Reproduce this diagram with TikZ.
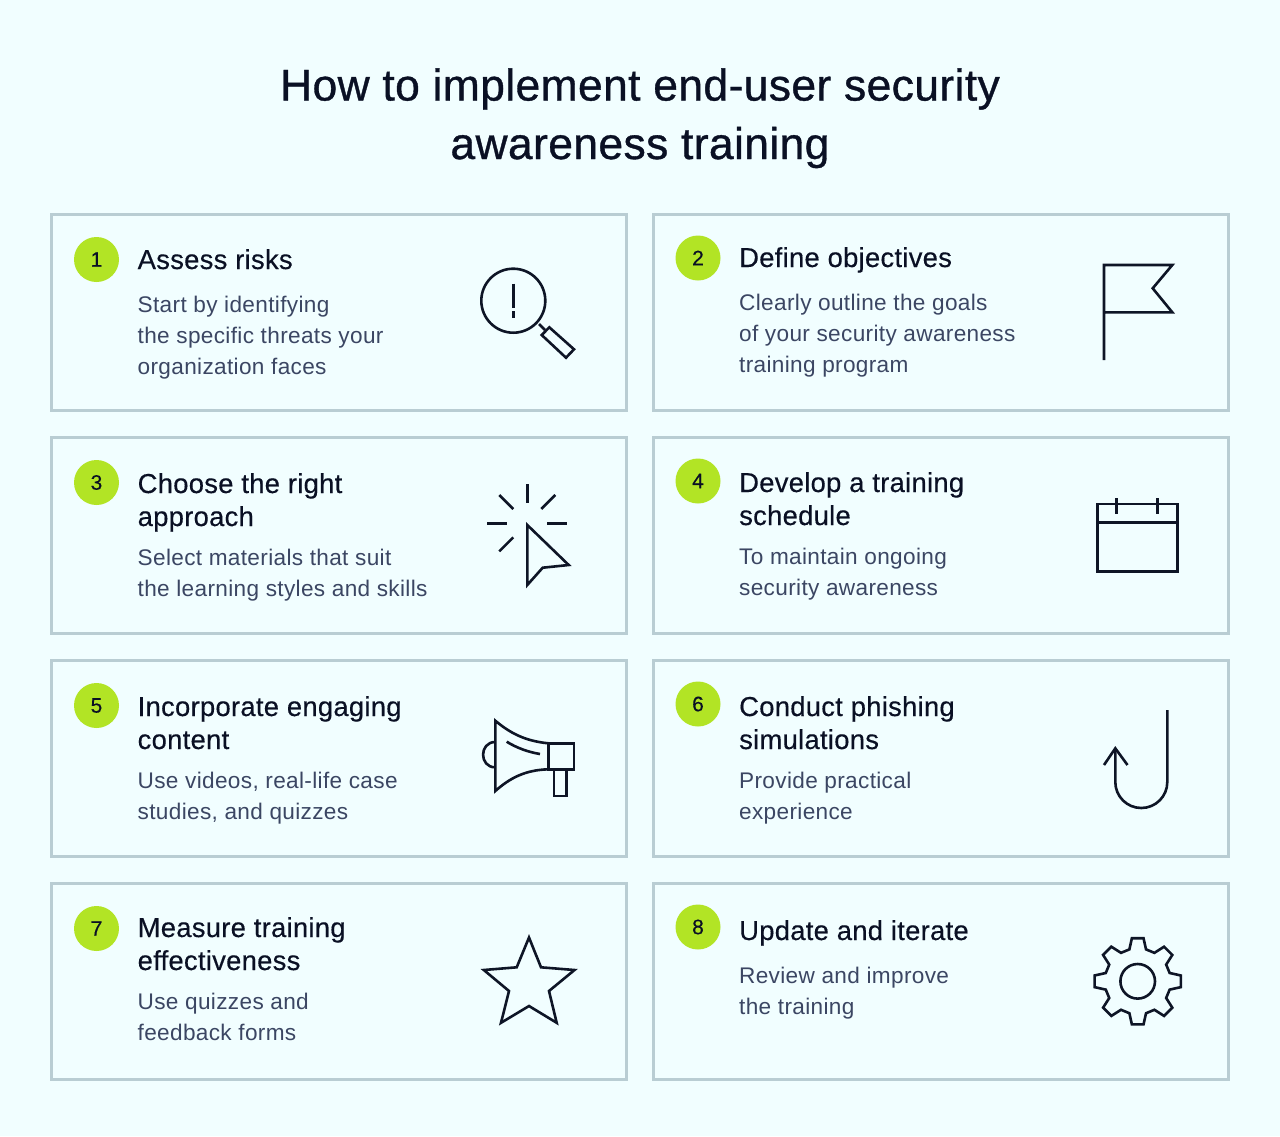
\documentclass[tikz,border=0pt]{standalone}
\usepackage{fontspec}
\setmainfont{Liberation Sans}
\newfontfamily\medfont[FakeBold=0.35,LetterSpace=1.0]{Liberation Sans}
\newfontfamily\headfont[FakeBold=0.8,LetterSpace=0.9]{Liberation Sans}
\newfontfamily\bodyfont[LetterSpace=1.5]{Liberation Sans}
\definecolor{bgc}{HTML}{F1FEFF}
\definecolor{edgec}{HTML}{B9CDD3}
\definecolor{limec}{HTML}{B2E425}
\definecolor{inkc}{HTML}{0A1024}
\definecolor{iconc}{HTML}{0E1526}
\definecolor{bodyc}{HTML}{3B4663}
\tikzset{
  cardbox/.style={draw=edgec,line width=2.7pt,fill=bgc},
  badge/.style={circle,fill=limec,minimum size=45pt,inner sep=0pt,text=inkc,font=\medfont\fontsize{21}{21}\selectfont},
  maintitle/.style={anchor=base,text=inkc,font=\headfont\fontsize{44.4}{44.4}\selectfont,inner sep=0pt},
  cardtitle/.style={anchor=base west,text=inkc,font=\medfont\fontsize{27.4}{27.4}\selectfont,inner sep=0pt},
  cardbody/.style={anchor=base west,text=bodyc,font=\bodyfont\fontsize{22.6}{22.6}\selectfont,inner sep=0pt},
  icon/.style={draw=iconc,line width=2.6pt,line join=miter}
}
\begin{document}
\begin{tikzpicture}[x=1pt,y=-1pt]
\useasboundingbox[fill=bgc] (0,0) rectangle (1280,1136);
\node[maintitle] (t1) at (640,100.5) {How to implement end-user security};
\node[maintitle] (t2) at (640,159) {awareness training};
% cards
\draw[cardbox] (51.8,214.5) rectangle (626.8,410.5);
\draw[cardbox] (653.5,214.5) rectangle (1228.5,410.5);
\draw[cardbox] (51.8,437.5) rectangle (626.8,633.5);
\draw[cardbox] (653.5,437.5) rectangle (1228.5,633.5);
\draw[cardbox] (51.8,660.5) rectangle (626.8,856.5);
\draw[cardbox] (653.5,660.5) rectangle (1228.5,856.5);
\draw[cardbox] (51.8,883.5) rectangle (626.8,1079.5);
\draw[cardbox] (653.5,883.5) rectangle (1228.5,1079.5);
% badges
\node[badge] (b1) at (96.5,259.5) {1};
\node[badge] (b2) at (698,258) {2};
\node[badge] (b3) at (96.5,482.5) {3};
\node[badge] (b4) at (698,481) {4};
\node[badge] (b5) at (96.5,705.5) {5};
\node[badge] (b6) at (698,704) {6};
\node[badge] (b7) at (96.5,928.5) {7};
\node[badge] (b8) at (698,927) {8};
% card 1
\node[cardtitle] (c1t) at (137.5,269) {Assess risks};
\node[cardbody] (c1a) at (137.5,312) {Start by identifying};
\node[cardbody] (c1b) at (137.5,343) {the specific threats your};
\node[cardbody] (c1c) at (137.5,374) {organization faces};
% card 2
\node[cardtitle] (c2t) at (739,267) {Define objectives};
\node[cardbody] (c2a) at (739,310) {Clearly outline the goals};
\node[cardbody] (c2b) at (739,341) {of your security awareness};
\node[cardbody] (c2c) at (739,372) {training program};
% card 3
\node[cardtitle] (c3t) at (137.5,493) {Choose the right};
\node[cardtitle] (c3u) at (137.5,526) {approach};
\node[cardbody] (c3a) at (137.5,565) {Select materials that suit};
\node[cardbody] (c3b) at (137.5,596) {the learning styles and skills};
% card 4
\node[cardtitle] (c4t) at (739,492) {Develop a training};
\node[cardtitle] (c4u) at (739,525) {schedule};
\node[cardbody] (c4a) at (739,564) {To maintain ongoing};
\node[cardbody] (c4b) at (739,595) {security awareness};
% card 5
\node[cardtitle] (c5t) at (137.5,716) {Incorporate engaging};
\node[cardtitle] (c5u) at (137.5,749) {content};
\node[cardbody] (c5a) at (137.5,788) {Use videos, real-life case};
\node[cardbody] (c5b) at (137.5,819) {studies, and quizzes};
% card 6
\node[cardtitle] (c6t) at (739,716) {Conduct phishing};
\node[cardtitle] (c6u) at (739,749) {simulations};
\node[cardbody] (c6a) at (739,788) {Provide practical};
\node[cardbody] (c6b) at (739,819) {experience};
% card 7
\node[cardtitle] (c7t) at (137.5,937) {Measure training};
\node[cardtitle] (c7u) at (137.5,970) {effectiveness};
\node[cardbody] (c7a) at (137.5,1009) {Use quizzes and};
\node[cardbody] (c7b) at (137.5,1040) {feedback forms};
% card 8
\node[cardtitle] (c8t) at (739,940) {Update and iterate};
\node[cardbody] (c8a) at (739,983) {Review and improve};
\node[cardbody] (c8b) at (739,1014) {the training};
% icon 1 magnifier
\draw[icon] (513.3,300.7) circle (32pt);
\draw[icon] (513.5,283.5) -- (513.5,307.5) (513.5,311) -- (513.5,318);
\draw[icon] (539,324) -- (545,330);
\draw[icon] (549.3,327.3) -- (574,349.3) -- (566,357.7) -- (541.7,335) -- cycle;
% icon 2 flag
\draw[icon] (1104,360) -- (1104,265) -- (1172.3,265) -- (1152.7,288.3) -- (1172.3,312.3) -- (1104,312.3);
% icon 3 cursor
\draw[icon] (527.3,484.3) -- (527.3,503);
\draw[icon] (499.3,495) -- (513.3,509);
\draw[icon] (555.3,495) -- (541.3,509);
\draw[icon] (487.3,523.3) -- (507.3,523.3);
\draw[icon] (547.3,523.3) -- (567.3,523.3);
\draw[icon] (513.3,537.3) -- (499.3,551.3);
\draw[icon] (527.3,525) -- (568.7,565) -- (542.7,567.7) -- (527.3,585) -- cycle;
% icon 4 calendar
\draw[icon] (1097.3,504) rectangle (1177.3,571.7);
\draw[icon] (1097.3,522.7) -- (1177.3,522.7);
\draw[icon] (1116.7,498.3) -- (1116.7,514);
\draw[icon] (1157.7,498.3) -- (1157.7,514);
% icon 5 megaphone
\draw[icon] (548.3,743.3) .. controls (525,741) and (510,733) .. (495.3,720.7) -- (495.3,791) .. controls (510,778) and (525,770) .. (548.3,769.3);
\draw[icon] (548.3,743.3) rectangle (574,769.3);
\draw[icon] (495.3,742) .. controls (479,742) and (479,767.3) .. (495.3,767.3);
\draw[icon] (506.7,741.7) .. controls (517,748) and (528,752) .. (540,754);
\draw[icon] (554,769.3) -- (554,796) -- (566.7,796) -- (566.7,769.3);
% icon 6 return arrow
\draw[icon] (1167.3,710) -- (1167.3,782) arc[start angle=0,end angle=-180,radius=26pt] -- (1115.3,748.3);
\draw[icon] (1104,765) -- (1115.3,748.3) -- (1127.5,765);
% icon 7 star
\draw[icon] (529,937.5) -- (541,967.3) -- (574.5,970) -- (549,991) -- (556.7,1022.8) -- (529,1006) -- (501,1022.8) -- (509,991) -- (483.8,970) -- (516.7,967.3) -- cycle;
% icon 8 gear
\begin{scope}[shift={(1137.7,981.3)}]
\draw[icon] (90-14.6:33pt) -- (90-7.7:43.5pt) -- (90+7.7:43.5pt) -- (90+14.6:33pt)
 \foreach \a in {45,90,135,180,225,270,315} { -- (90+\a-14.6:33pt) -- (90+\a-7.7:43.5pt) -- (90+\a+7.7:43.5pt) -- (90+\a+14.6:33pt) } -- cycle;
\draw[icon] (0,0) circle (17.3pt);
\end{scope}
\end{tikzpicture}
\end{document}
